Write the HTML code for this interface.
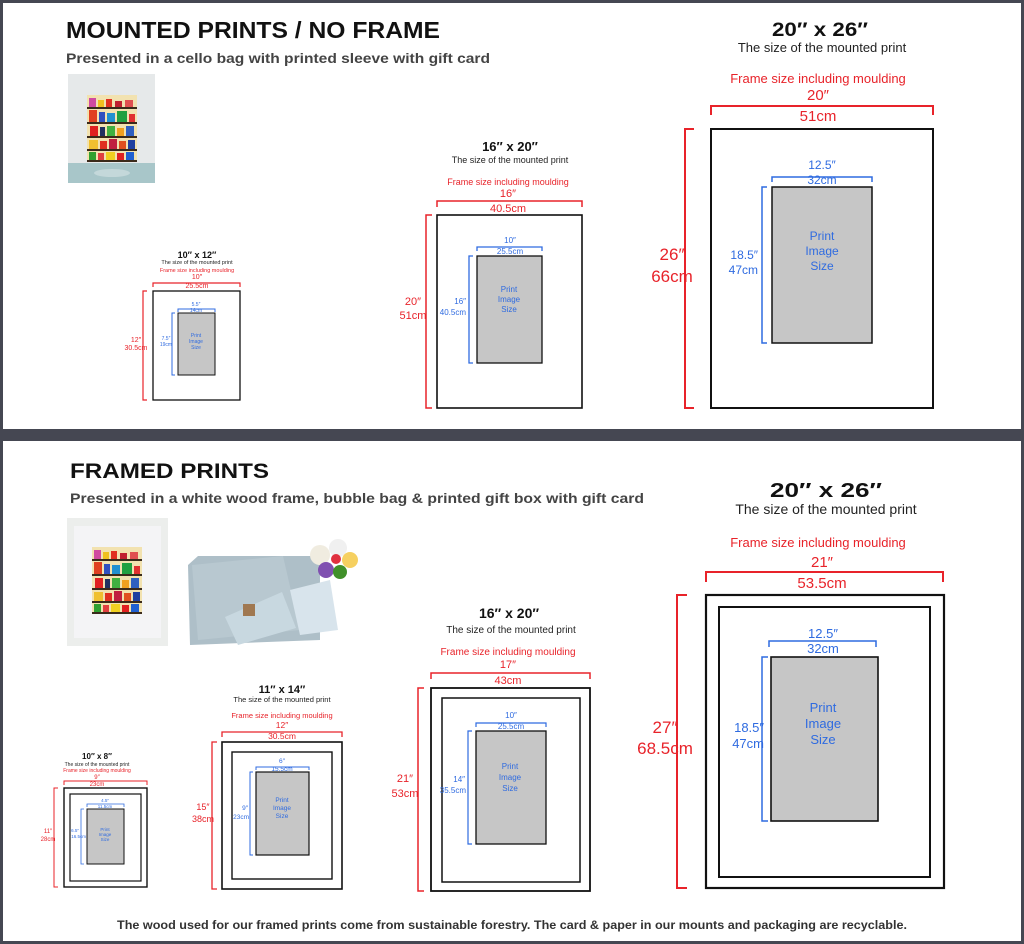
<!DOCTYPE html>
<html><head><meta charset="utf-8"><style>
html,body{margin:0;padding:0;background:#454752;}
svg{display:block;font-family:"Liberation Sans",sans-serif;}
.r{fill:#e8232a}.b{fill:#2f6be0}
.rl{stroke:#e8232a;fill:none}.bl{stroke:#2f6be0;fill:none}
</style></head><body>
<svg width="1024" height="944" viewBox="0 0 1024 944" xmlns="http://www.w3.org/2000/svg">
<defs>
<g id="art">
<rect x="0" y="0" width="50" height="67" fill="#f2e2b0"/>
<rect x="0" y="12" width="50" height="2" fill="#3a2a1a"/>
<rect x="0" y="27" width="50" height="2" fill="#3a2a1a"/>
<rect x="0" y="41" width="50" height="2" fill="#3a2a1a"/>
<rect x="0" y="54" width="50" height="2" fill="#3a2a1a"/>
<rect x="0" y="65" width="50" height="2" fill="#3a2a1a"/>
<rect x="2" y="3" width="7" height="9" fill="#d04aa0"/><rect x="11" y="5" width="6" height="7" fill="#f0c020"/><rect x="19" y="4" width="6" height="8" fill="#e03020"/><rect x="28" y="6" width="7" height="6" fill="#c02030"/><rect x="38" y="5" width="8" height="7" fill="#e05050"/>
<rect x="2" y="15" width="8" height="12" fill="#e04020"/><rect x="12" y="17" width="6" height="10" fill="#3050c0"/><rect x="20" y="18" width="8" height="9" fill="#2090d0"/><rect x="30" y="16" width="10" height="11" fill="#20a040"/><rect x="42" y="19" width="6" height="8" fill="#e03030"/>
<rect x="3" y="31" width="8" height="10" fill="#e02020"/><rect x="13" y="32" width="5" height="9" fill="#203060"/><rect x="20" y="31" width="8" height="10" fill="#40b040"/><rect x="30" y="33" width="7" height="8" fill="#f0a020"/><rect x="39" y="31" width="8" height="10" fill="#3060c0"/>
<rect x="2" y="45" width="9" height="9" fill="#f0c030"/><rect x="13" y="46" width="7" height="8" fill="#e03020"/><rect x="22" y="44" width="8" height="10" fill="#c02040"/><rect x="32" y="46" width="7" height="8" fill="#e05020"/><rect x="41" y="45" width="7" height="9" fill="#2040a0"/>
<rect x="2" y="57" width="7" height="8" fill="#30a030"/><rect x="11" y="58" width="6" height="7" fill="#e04040"/><rect x="19" y="57" width="9" height="8" fill="#f0d020"/><rect x="30" y="58" width="7" height="7" fill="#e02020"/><rect x="39" y="57" width="8" height="8" fill="#2060d0"/>
</g>
</defs>
<rect x="3" y="3" width="1018" height="426" fill="#fff"/>
<rect x="3" y="441" width="1018" height="500" fill="#fff"/>

<!-- TOP -->
<text x="66" y="38" font-size="23" font-weight="bold" fill="#111" textLength="374" lengthAdjust="spacingAndGlyphs">MOUNTED PRINTS / NO FRAME</text>
<text x="66" y="63" font-size="14" font-weight="bold" fill="#444" textLength="424" lengthAdjust="spacingAndGlyphs">Presented in a cello bag with printed sleeve with gift card</text>
<rect x="68" y="74" width="87" height="109" fill="#e6e9ea"/>
<rect x="68" y="163" width="87" height="20" fill="#a8c6c9"/>
<ellipse cx="112" cy="173" rx="18" ry="4" fill="#c4d8da"/>
<use href="#art" transform="translate(87,95)"/>

<!-- 10x12 -->
<text x="197" y="258" font-size="9" font-weight="bold" text-anchor="middle" fill="#111">10″ x 12″</text>
<text x="197" y="264" font-size="5.5" text-anchor="middle" fill="#222">The size of the mounted print</text>
<text x="197" y="272" font-size="5.5" text-anchor="middle" class="r">Frame size including moulding</text>
<text x="197" y="279" font-size="7" text-anchor="middle" class="r">10″</text>
<text x="197" y="288" font-size="7" text-anchor="middle" class="r">25.5cm</text>
<path class="rl" stroke-width="1.2" d="M153,287V283H240V287"/>
<path class="rl" stroke-width="1.2" d="M147,291H143V400H147"/>
<text x="136" y="342" font-size="7" text-anchor="middle" class="r">12″</text>
<text x="136" y="350" font-size="7" text-anchor="middle" class="r">30.5cm</text>
<rect x="153" y="291" width="87" height="109" fill="none" stroke="#111" stroke-width="1.3"/>
<rect x="178" y="313" width="37" height="62" fill="#c6c6c6" stroke="#111" stroke-width="1"/>
<path class="bl" stroke-width="1" d="M178,312V309H215V312"/>
<path class="bl" stroke-width="1" d="M175,313H172V375H175"/>
<text x="196" y="306" font-size="5" text-anchor="middle" class="b">5.5″</text>
<text x="196" y="312" font-size="5" text-anchor="middle" class="b">14cm</text>
<text x="166" y="340" font-size="5" text-anchor="middle" class="b">7.5″</text>
<text x="166" y="346" font-size="5" text-anchor="middle" class="b">19cm</text>
<text x="196" y="337" font-size="5" text-anchor="middle" class="b">Print</text>
<text x="196" y="343" font-size="5" text-anchor="middle" class="b">Image</text>
<text x="196" y="349" font-size="5" text-anchor="middle" class="b">Size</text>

<!-- 16x20 top -->
<text x="510" y="151" font-size="13" font-weight="bold" text-anchor="middle" fill="#111">16″ x 20″</text>
<text x="510" y="163" font-size="9" text-anchor="middle" fill="#222">The size of the mounted print</text>
<text x="508" y="185" font-size="9" text-anchor="middle" class="r">Frame size including moulding</text>
<text x="508" y="197" font-size="11" text-anchor="middle" class="r">16″</text>
<text x="508" y="212" font-size="11" text-anchor="middle" class="r">40.5cm</text>
<path class="rl" stroke-width="1.5" d="M437,207V201H582V207"/>
<path class="rl" stroke-width="1.5" d="M432,215H426V408H432"/>
<text x="413" y="305" font-size="11" text-anchor="middle" class="r">20″</text>
<text x="413" y="319" font-size="11" text-anchor="middle" class="r">51cm</text>
<rect x="437" y="215" width="145" height="193" fill="none" stroke="#111" stroke-width="1.6"/>
<rect x="477" y="256" width="65" height="107" fill="#c6c6c6" stroke="#111" stroke-width="1.3"/>
<path class="bl" stroke-width="1.3" d="M477,251V247H542V251"/>
<path class="bl" stroke-width="1.3" d="M473,256H469V363H473"/>
<text x="510" y="243" font-size="8" text-anchor="middle" class="b">10″</text>
<text x="510" y="254" font-size="8" text-anchor="middle" class="b">25.5cm</text>
<text x="466" y="304" font-size="8" text-anchor="end" class="b">16″</text>
<text x="466" y="315" font-size="8" text-anchor="end" class="b">40.5cm</text>
<text x="509" y="292" font-size="8" text-anchor="middle" class="b">Print</text>
<text x="509" y="302" font-size="8" text-anchor="middle" class="b">Image</text>
<text x="509" y="312" font-size="8" text-anchor="middle" class="b">Size</text>

<!-- 20x26 top -->
<text x="820" y="36" font-size="19" font-weight="bold" text-anchor="middle" fill="#111" textLength="96" lengthAdjust="spacingAndGlyphs">20″ x 26″</text>
<text x="822" y="52" font-size="13" text-anchor="middle" fill="#222">The size of the mounted print</text>
<text x="818" y="83" font-size="13" text-anchor="middle" class="r">Frame size including moulding</text>
<text x="818" y="100" font-size="15" text-anchor="middle" class="r">20″</text>
<text x="818" y="121" font-size="15" text-anchor="middle" class="r">51cm</text>
<path class="rl" stroke-width="2" d="M711,115V106H933V115"/>
<path class="rl" stroke-width="2" d="M694,129H685V408H694"/>
<text x="672" y="260" font-size="17" text-anchor="middle" class="r">26″</text>
<text x="672" y="282" font-size="17" text-anchor="middle" class="r">66cm</text>
<rect x="711" y="129" width="222" height="279" fill="none" stroke="#111" stroke-width="2"/>
<rect x="772" y="187" width="100" height="156" fill="#c6c6c6" stroke="#111" stroke-width="1.5"/>
<path class="bl" stroke-width="1.5" d="M772,182V177H872V182"/>
<path class="bl" stroke-width="1.5" d="M767,187H762V343H767"/>
<text x="822" y="169" font-size="12" text-anchor="middle" class="b">12.5″</text>
<text x="822" y="184" font-size="12" text-anchor="middle" class="b">32cm</text>
<text x="758" y="259" font-size="12" text-anchor="end" class="b">18.5″</text>
<text x="758" y="274" font-size="12" text-anchor="end" class="b">47cm</text>
<text x="822" y="240" font-size="12" text-anchor="middle" class="b">Print</text>
<text x="822" y="255" font-size="12" text-anchor="middle" class="b">Image</text>
<text x="822" y="270" font-size="12" text-anchor="middle" class="b">Size</text>

<!-- BOTTOM -->
<text x="70" y="478" font-size="21" font-weight="bold" fill="#111" textLength="199" lengthAdjust="spacingAndGlyphs">FRAMED PRINTS</text>
<text x="70" y="503" font-size="14" font-weight="bold" fill="#444" textLength="574" lengthAdjust="spacingAndGlyphs">Presented in a white wood frame, bubble bag &amp; printed gift box with gift card</text>
<rect x="67" y="518" width="101" height="128" fill="#eceeec"/>
<rect x="74" y="526" width="87" height="112" fill="#f4f4f6"/>
<use href="#art" transform="translate(92,547)"/>
<!-- gift box -->
<polygon points="198,556 320,556 320,640 190,645 188,565" fill="#aebfc8"/>
<polygon points="192,565 283,556 300,630 198,640" fill="#b8c8d0"/>
<polygon points="225,617 282,592 296,628 238,645" fill="#c8d8e0"/>
<rect x="243" y="604" width="12" height="12" fill="#a07850"/>
<polygon points="290,590 330,580 338,630 300,635" fill="#d8e4ec"/>
<circle cx="320" cy="555" r="10" fill="#f0ece0"/><circle cx="338" cy="548" r="9" fill="#f0f0f0"/><circle cx="350" cy="560" r="8" fill="#f6d060"/><circle cx="326" cy="570" r="8" fill="#8050b0"/><circle cx="340" cy="572" r="7" fill="#40902a"/><circle cx="336" cy="559" r="5" fill="#e03040"/>

<!-- 10x8 -->
<text x="97" y="759" font-size="8" font-weight="bold" text-anchor="middle" fill="#111">10″ x 8″</text>
<text x="97" y="766" font-size="5" text-anchor="middle" fill="#222">The size of the mounted print</text>
<text x="97" y="772" font-size="5" text-anchor="middle" class="r">Frame size including moulding</text>
<text x="97" y="779" font-size="6" text-anchor="middle" class="r">9″</text>
<text x="97" y="786" font-size="6" text-anchor="middle" class="r">23cm</text>
<path class="rl" stroke-width="1" d="M64,785V781H147V785"/>
<path class="rl" stroke-width="1" d="M58,788H54V887H58"/>
<text x="48" y="833" font-size="6" text-anchor="middle" class="r">11″</text>
<text x="48" y="841" font-size="6" text-anchor="middle" class="r">28cm</text>
<rect x="64" y="788" width="83" height="99" fill="none" stroke="#111" stroke-width="1.4"/>
<rect x="70" y="794" width="71" height="87" fill="none" stroke="#111" stroke-width="1.2"/>
<rect x="87" y="809" width="37" height="55" fill="#c6c6c6" stroke="#111" stroke-width="1"/>
<path class="bl" stroke-width="0.8" d="M87,807V804H124V807"/>
<path class="bl" stroke-width="0.8" d="M84,809H81V864H84"/>
<text x="105" y="802" font-size="4.5" text-anchor="middle" class="b">4.5″</text>
<text x="105" y="808" font-size="4.5" text-anchor="middle" class="b">11.5cm</text>
<text x="79" y="832" font-size="4.5" text-anchor="end" class="b">6.5″</text>
<text x="86" y="838" font-size="4.5" text-anchor="end" class="b">16.5cm</text>
<text x="105" y="831" font-size="4.5" text-anchor="middle" class="b">Print</text>
<text x="105" y="836" font-size="4.5" text-anchor="middle" class="b">Image</text>
<text x="105" y="841" font-size="4.5" text-anchor="middle" class="b">Size</text>

<!-- 11x14 -->
<text x="282" y="693" font-size="11" font-weight="bold" text-anchor="middle" fill="#111">11″ x 14″</text>
<text x="282" y="702" font-size="7.5" text-anchor="middle" fill="#222">The size of the mounted print</text>
<text x="282" y="718" font-size="7.5" text-anchor="middle" class="r">Frame size including moulding</text>
<text x="282" y="728" font-size="8.5" text-anchor="middle" class="r">12″</text>
<text x="282" y="739" font-size="8.5" text-anchor="middle" class="r">30.5cm</text>
<path class="rl" stroke-width="1.3" d="M222,737V732H342V737"/>
<path class="rl" stroke-width="1.3" d="M217,742H212V889H217"/>
<text x="203" y="810" font-size="9" text-anchor="middle" class="r">15″</text>
<text x="203" y="822" font-size="9" text-anchor="middle" class="r">38cm</text>
<rect x="222" y="742" width="120" height="147" fill="none" stroke="#111" stroke-width="1.6"/>
<rect x="232" y="752" width="100" height="127" fill="none" stroke="#111" stroke-width="1.4"/>
<rect x="256" y="772" width="53" height="83" fill="#c6c6c6" stroke="#111" stroke-width="1.2"/>
<path class="bl" stroke-width="1" d="M256,770V767H309V770"/>
<path class="bl" stroke-width="1" d="M253,772H250V855H253"/>
<text x="282" y="763" font-size="6.5" text-anchor="middle" class="b">6″</text>
<text x="282" y="771" font-size="6.5" text-anchor="middle" class="b">15.5cm</text>
<text x="248" y="810" font-size="6.5" text-anchor="end" class="b">9″</text>
<text x="249" y="819" font-size="6.5" text-anchor="end" class="b">23cm</text>
<text x="282" y="802" font-size="6.5" text-anchor="middle" class="b">Print</text>
<text x="282" y="810" font-size="6.5" text-anchor="middle" class="b">Image</text>
<text x="282" y="818" font-size="6.5" text-anchor="middle" class="b">Size</text>

<!-- 16x20 bottom -->
<text x="509" y="618" font-size="14" font-weight="bold" text-anchor="middle" fill="#111">16″ x 20″</text>
<text x="511" y="633" font-size="10" text-anchor="middle" fill="#222">The size of the mounted print</text>
<text x="508" y="655" font-size="10" text-anchor="middle" class="r">Frame size including moulding</text>
<text x="508" y="668" font-size="11" text-anchor="middle" class="r">17″</text>
<text x="508" y="684" font-size="11" text-anchor="middle" class="r">43cm</text>
<path class="rl" stroke-width="1.5" d="M431,679V673H590V679"/>
<path class="rl" stroke-width="1.5" d="M424,688H418V891H424"/>
<text x="405" y="782" font-size="11" text-anchor="middle" class="r">21″</text>
<text x="405" y="797" font-size="11" text-anchor="middle" class="r">53cm</text>
<rect x="431" y="688" width="159" height="203" fill="none" stroke="#111" stroke-width="1.8"/>
<rect x="442" y="698" width="138" height="184" fill="none" stroke="#111" stroke-width="1.5"/>
<rect x="476" y="731" width="70" height="113" fill="#c6c6c6" stroke="#111" stroke-width="1.3"/>
<path class="bl" stroke-width="1.2" d="M476,727V723H546V727"/>
<path class="bl" stroke-width="1.2" d="M472,731H468V844H472"/>
<text x="511" y="718" font-size="8" text-anchor="middle" class="b">10″</text>
<text x="511" y="729" font-size="8" text-anchor="middle" class="b">25.5cm</text>
<text x="465" y="782" font-size="8" text-anchor="end" class="b">14″</text>
<text x="466" y="793" font-size="8" text-anchor="end" class="b">35.5cm</text>
<text x="510" y="769" font-size="8" text-anchor="middle" class="b">Print</text>
<text x="510" y="780" font-size="8" text-anchor="middle" class="b">Image</text>
<text x="510" y="791" font-size="8" text-anchor="middle" class="b">Size</text>

<!-- 20x26 bottom -->
<text x="826" y="497" font-size="20" font-weight="bold" text-anchor="middle" fill="#111" textLength="112" lengthAdjust="spacingAndGlyphs">20″ x 26″</text>
<text x="826" y="514" font-size="14" text-anchor="middle" fill="#222">The size of the mounted print</text>
<text x="818" y="547" font-size="13" text-anchor="middle" class="r">Frame size including moulding</text>
<text x="822" y="567" font-size="15" text-anchor="middle" class="r">21″</text>
<text x="822" y="588" font-size="15" text-anchor="middle" class="r">53.5cm</text>
<path class="rl" stroke-width="2" d="M706,582V572H943V582"/>
<path class="rl" stroke-width="2" d="M687,595H677V888H687"/>
<text x="665" y="733" font-size="17" text-anchor="middle" class="r">27″</text>
<text x="665" y="754" font-size="17" text-anchor="middle" class="r">68.5cm</text>
<rect x="706" y="595" width="238" height="293" fill="none" stroke="#111" stroke-width="2.2"/>
<rect x="719" y="607" width="211" height="270" fill="none" stroke="#111" stroke-width="2"/>
<rect x="771" y="657" width="107" height="164" fill="#c6c6c6" stroke="#111" stroke-width="1.6"/>
<path class="bl" stroke-width="1.5" d="M769,647V641H876V647"/>
<path class="bl" stroke-width="1.5" d="M768,657H762V821H768"/>
<text x="823" y="638" font-size="13" text-anchor="middle" class="b">12.5″</text>
<text x="823" y="653" font-size="13" text-anchor="middle" class="b">32cm</text>
<text x="764" y="732" font-size="13" text-anchor="end" class="b">18.5″</text>
<text x="764" y="748" font-size="13" text-anchor="end" class="b">47cm</text>
<text x="823" y="712" font-size="13" text-anchor="middle" class="b">Print</text>
<text x="823" y="728" font-size="13" text-anchor="middle" class="b">Image</text>
<text x="823" y="744" font-size="13" text-anchor="middle" class="b">Size</text>

<text x="512" y="929" font-size="11.5" font-weight="bold" text-anchor="middle" fill="#333" textLength="790" lengthAdjust="spacingAndGlyphs">The wood used for our framed prints come from sustainable forestry. The card &amp; paper in our mounts and packaging are recyclable.</text>
</svg>
</body></html>
